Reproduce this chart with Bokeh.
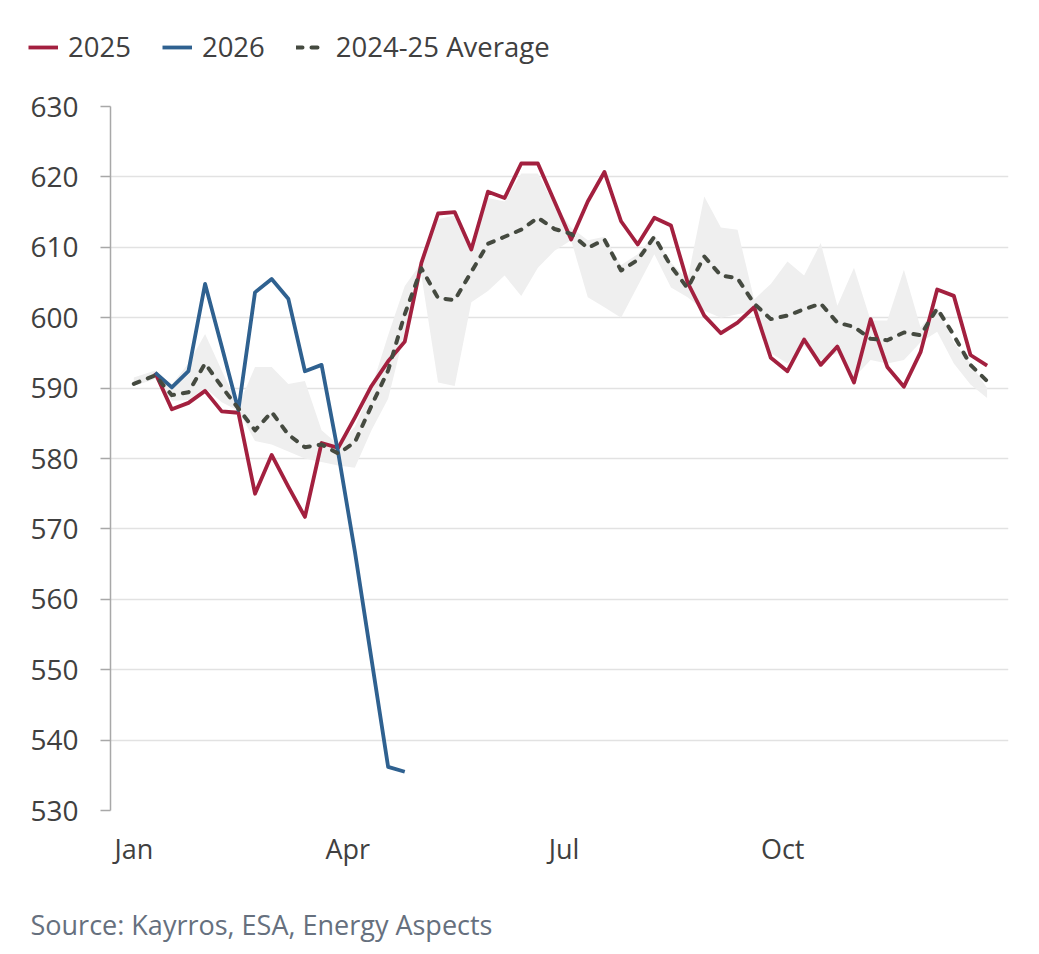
import pandas as pd
from bokeh.plotting import figure
from bokeh.layouts import column
from bokeh.models import Range1d, FixedTicker, Legend, LegendItem, Label
from bokeh.embed import file_html
from bokeh.resources import INLINE

# ---- data ----
dates_2025 = pd.date_range("2025-01-10", periods=51, freq="7D")
days_2025 = [d.dayofyear - 1 for d in dates_2025]
days_avg = [0] + days_2025
days_2026 = days_2025[:16]

vals_2025 = [592.2, 587.0, 587.9, 589.6, 586.7, 586.5, 575.0, 580.5, 576.0, 571.7,
             582.2, 581.5, 585.8, 590.3, 593.8, 596.6, 607.8, 614.8, 615.0, 609.7,
             617.9, 617.0, 621.9, 621.9, 616.5, 611.1, 616.5, 620.7, 613.7, 610.4,
             614.2, 613.1, 605.0, 600.3, 597.8, 599.3, 601.5, 594.3, 592.4, 596.9,
             593.3, 595.9, 590.8, 599.8, 593.0, 590.2, 595.1, 604.0, 603.1, 594.7,
             593.2]

vals_2026 = [592.2, 590.1, 592.4, 604.8, 595.9, 586.9, 603.6, 605.5, 602.7, 592.4,
             593.3, 580.8, 566.8, 551.5, 536.2, 535.5]

vals_avg = [590.6, 591.8, 589.0, 589.4, 593.5, 590.2, 587.1, 584.0, 586.6, 583.4,
            581.6, 582.0, 580.7, 582.3, 587.5, 592.5, 600.5, 607.0, 602.8, 602.5,
            606.5, 610.5, 611.5, 612.5, 614.2, 612.6, 611.9, 609.9, 611.1, 606.7,
            608.2, 611.5, 607.3, 604.2, 608.7, 606.0, 605.6, 602.0, 599.8, 600.3,
            601.2, 602.0, 599.3, 598.7, 597.0, 596.8, 597.9, 597.5, 601.3, 597.5,
            593.3, 591.0]

band_upper = [591.5, 592.5, 590.5, 593.5, 597.7, 592.5, 587.5, 593.0, 593.0, 590.6,
              591.0, 584.0, 582.0, 584.5, 590.0, 597.5, 604.5, 607.8, 614.0, 614.5,
              609.5, 617.0, 616.5, 620.5, 620.5, 616.0, 612.8, 611.0, 611.5, 607.5,
              609.0, 611.8, 607.8, 605.5, 617.2, 612.8, 612.5, 602.6, 604.8, 608.0,
              606.0, 610.6, 601.7, 607.1, 599.6, 599.6, 606.8, 598.6, 601.5, 596.5,
              593.5, 590.0]

band_lower = [590.3, 591.3, 588.2, 588.3, 590.0, 588.0, 586.8, 582.5, 582.0, 581.0,
              580.0, 579.5, 579.0, 578.7, 584.0, 588.5, 598.0, 606.0, 590.8, 590.3,
              602.2, 603.8, 606.0, 603.1, 607.1, 609.5, 611.0, 602.9, 601.5, 600.0,
              604.5, 609.0, 604.3, 602.9, 601.0, 600.0, 600.5, 601.0, 595.0, 593.5,
              596.0, 594.0, 595.0, 591.5, 594.0, 593.5, 594.0, 596.5, 598.0, 593.5,
              590.5, 588.6]

month_ticks = [0, 90, 181, 273]
month_labels = ["Jan", "Apr", "Jul", "Oct"]
y_ticks = [530, 540, 550, 560, 570, 580, 590, 600, 610, 620, 630]

series_names = ["2025", "2026", "2024-25 Average"]
series_x = [days_2025, days_2026, days_avg]
series_y = [vals_2025, vals_2026, vals_avg]
source_text = "Source: Kayrros, ESA, Energy Aspects"

FONT = "Open Sans"
TXT = "#404040"
RED = "#A3203F"
BLUE = "#2F6190"
DASH = "#454A40"
STYLES = [dict(line_color=RED, line_width=3.8, line_join="round"),
          dict(line_color=BLUE, line_width=3.8, line_join="round"),
          dict(line_color=DASH, line_width=4, line_dash="6 9", line_cap="round",
               line_join="round")]

TOP_H = 70
MAIN_H = 800
BOT_H = 954 - TOP_H - MAIN_H


def no_align(fig):
    if "frame_align" in fig.properties():
        fig.frame_align = False


def strip(height):
    f = figure(width=1039, height=height, output_backend="svg", toolbar_location=None,
               x_range=Range1d(-1000, -999), y_range=Range1d(-1000, -999),
               x_axis_location=None, y_axis_location=None,
               min_border=0, min_border_left=0, min_border_right=0,
               min_border_top=0, min_border_bottom=0)
    f.grid.visible = False
    f.outline_line_color = None
    no_align(f)
    return f


# ---- legend strip (series drawn off-range; only their legend glyphs show) ----
pl = strip(TOP_H)
leg_items = []
for name, xs, ys, st in zip(series_names, series_x, series_y, STYLES):
    r = pl.line(xs, ys, **st)
    leg_items.append(LegendItem(label=name, renderers=[r]))
legend = Legend(items=leg_items, orientation="horizontal", location=(28, 5),
                label_text_font=FONT, label_text_font_size="27.5px",
                label_text_color=TXT, glyph_width=30, glyph_height=20,
                label_standoff=10, spacing=31, padding=0, margin=0,
                border_line_color=None, background_fill_alpha=0)
pl.add_layout(legend, "center")

# ---- main chart ----
p = figure(width=1039, height=MAIN_H, output_backend="svg", toolbar_location=None,
           x_range=Range1d(-9.8, 368.0), y_range=Range1d(530, 630),
           min_border_left=110, min_border_right=31, min_border_top=106 - TOP_H,
           min_border_bottom=60)
p.outline_line_color = None
no_align(p)

p.varea(x=days_avg, y1=band_lower, y2=band_upper, fill_color="#EFEFEF")
for xs, ys, st in zip(series_x, series_y, STYLES):
    p.line(xs, ys, **st)

p.xaxis.ticker = FixedTicker(ticks=month_ticks)
p.xaxis.major_label_overrides = {t: l for t, l in zip(month_ticks, month_labels)}
p.xaxis.axis_line_color = None
p.xaxis.major_tick_line_color = None
p.xaxis.minor_tick_line_color = None
p.xaxis.major_label_standoff = 13
p.xaxis.major_label_text_font = FONT
p.xaxis.major_label_text_font_size = "27px"
p.xaxis.major_label_text_color = TXT

p.yaxis.ticker = FixedTicker(ticks=y_ticks)
p.yaxis.axis_line_color = "#A8A8A8"
p.yaxis.axis_line_width = 1.5
p.yaxis.major_tick_line_color = "#A8A8A8"
p.yaxis.major_tick_line_width = 1.5
p.yaxis.major_tick_out = 10
p.yaxis.major_tick_in = 0
p.yaxis.minor_tick_line_color = None
p.yaxis.major_label_standoff = 22
p.yaxis.major_label_text_font = FONT
p.yaxis.major_label_text_font_size = "28px"
p.yaxis.major_label_text_color = TXT

p.xgrid.grid_line_color = None
p.ygrid.grid_line_color = "#E2E2E2"
p.ygrid.grid_line_width = 1.5
p.ygrid.ticker = FixedTicker(ticks=y_ticks)

# ---- source strip ----
pb = strip(BOT_H)
pb.add_layout(Label(x=30, y=BOT_H - 54, x_units="screen", y_units="screen",
                    text=source_text, text_font=FONT, text_font_size="27px",
                    text_color="#66707E", text_baseline="middle"))

layout = column(pl, p, pb, spacing=0)
open("out.html", "w").write(file_html(layout, INLINE))
